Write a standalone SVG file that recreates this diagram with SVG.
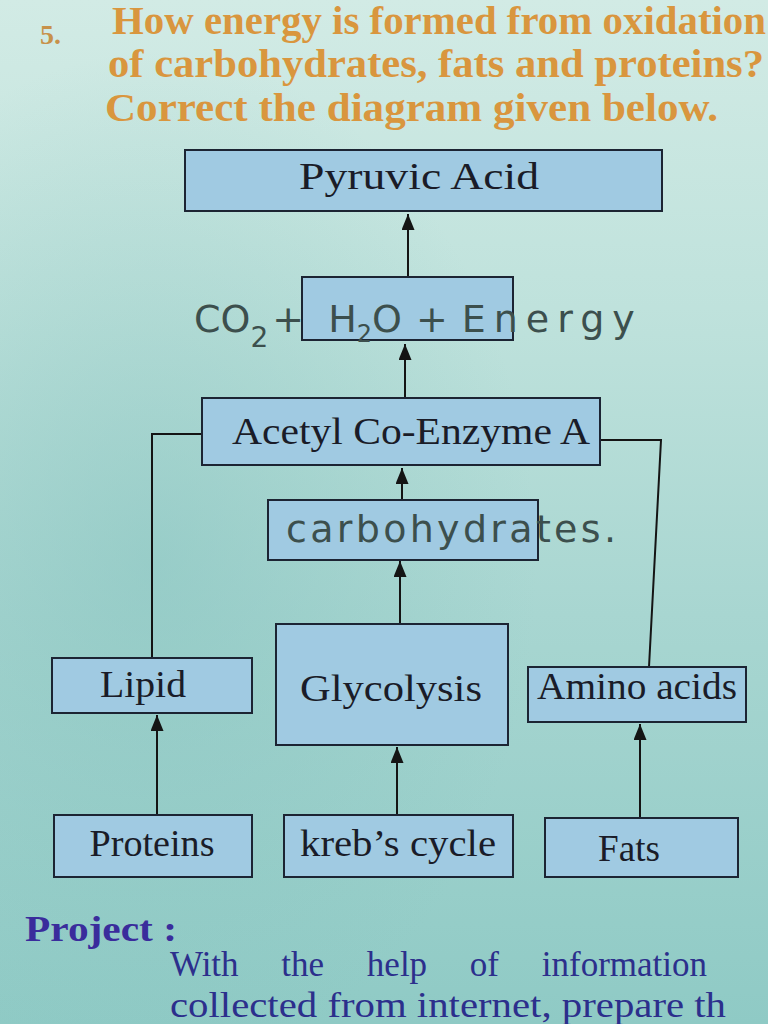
<svg xmlns="http://www.w3.org/2000/svg" width="768" height="1024" viewBox="0 0 768 1024">
  <defs>
    <linearGradient id="bg" x1="0" y1="0" x2="0" y2="1">
      <stop offset="0" stop-color="#d2ebe5"/>
      <stop offset="0.3" stop-color="#bfe2dc"/>
      <stop offset="0.6" stop-color="#a8d6d1"/>
      <stop offset="1" stop-color="#8fcac5"/>
    </linearGradient>
    <radialGradient id="shade" cx="0.2" cy="0.55" r="0.5">
      <stop offset="0" stop-color="#7fbfbb" stop-opacity="0.45"/>
      <stop offset="1" stop-color="#7fbfbb" stop-opacity="0"/>
    </radialGradient>
    <marker id="arr" markerUnits="userSpaceOnUse" markerWidth="16" markerHeight="13" refX="16" refY="6.5" orient="auto">
      <path d="M0,0 L16,6.5 L0,13 z" fill="#141414"/>
    </marker>
    <style>
      .box { fill: #a0cae2; stroke: #1c2433; stroke-width: 2; }
      .lbl { font-family: "Liberation Serif", "Times New Roman", serif; font-size: 38px; fill: #1a1c28; text-anchor: middle; }
      .title { font-family: "Liberation Serif", "Times New Roman", serif; font-weight: bold; font-size: 40px; fill: #d9963e; }
      .hand { font-family: "DejaVu Sans", sans-serif; font-size: 38px; fill: #3c4f4d; }
      .conn { fill: none; stroke: #141414; stroke-width: 2; }
      .proj { font-family: "Liberation Serif", "Times New Roman", serif; font-size: 35px; fill: #2c2f8c; }
    </style>
  </defs>

  <rect x="0" y="0" width="768" height="1024" fill="url(#bg)"/>
  <rect x="0" y="0" width="768" height="1024" fill="url(#shade)"/>

  <!-- Question title -->
  <g id="title">
    <text x="40" y="44" font-family="Liberation Serif, serif" font-weight="bold" font-size="28" fill="#c7914a">5.</text>
    <text class="title" x="112" y="34" font-size="37" textLength="654" lengthAdjust="spacingAndGlyphs">How energy is formed from oxidation</text>
    <text class="title" x="108" y="77" textLength="656" lengthAdjust="spacingAndGlyphs">of carbohydrates, fats and proteins?</text>
    <text class="title" x="105" y="121" textLength="613" lengthAdjust="spacingAndGlyphs">Correct the diagram given below.</text>
  </g>

  <!-- Connectors -->
  <g id="connectors">
    <path class="conn" d="M408,277 V214" marker-end="url(#arr)"/>
    <path class="conn" d="M405,398 V344" marker-end="url(#arr)"/>
    <path class="conn" d="M402,500 V468" marker-end="url(#arr)"/>
    <path class="conn" d="M400,624 V561" marker-end="url(#arr)"/>
    <path class="conn" d="M202,434 H152 V658"/>
    <path class="conn" d="M600,440 H661 L649,667"/>
    <path class="conn" d="M157,815 V715" marker-end="url(#arr)"/>
    <path class="conn" d="M397,815 V747" marker-end="url(#arr)"/>
    <path class="conn" d="M640,818 V724" marker-end="url(#arr)"/>
  </g>

  <!-- Nodes -->
  <g id="pyruvic">
    <rect class="box" x="185" y="150" width="477" height="61"/>
    <text class="lbl" x="419" y="189" textLength="240" lengthAdjust="spacingAndGlyphs">Pyruvic Acid</text>
  </g>

  <g id="co2-box">
    <rect class="box" x="302" y="277" width="211" height="63"/>
    <text class="hand" x="194" y="332">CO<tspan font-size="28" dy="15">2</tspan><tspan dy="-15" dx="4">+</tspan><tspan dx="24">H</tspan><tspan font-size="24" dy="10">2</tspan><tspan dy="-10">O</tspan><tspan dx="14">+</tspan><tspan dx="14" letter-spacing="8">Energy</tspan></text>
  </g>

  <g id="acetyl">
    <rect class="box" x="202" y="398" width="398" height="67"/>
    <text class="lbl" x="411" y="444" textLength="358" lengthAdjust="spacingAndGlyphs">Acetyl Co-Enzyme A</text>
  </g>

  <g id="carbohydrates">
    <rect class="box" x="268" y="500" width="270" height="60"/>
    <text class="hand" x="286" y="542" textLength="330">carbohydrates.</text>
  </g>

  <g id="lipid">
    <rect class="box" x="52" y="658" width="200" height="55"/>
    <text class="lbl" x="143" y="697" textLength="86" lengthAdjust="spacingAndGlyphs">Lipid</text>
  </g>

  <g id="glycolysis">
    <rect class="box" x="276" y="624" width="232" height="121"/>
    <text class="lbl" x="391" y="701" textLength="182" lengthAdjust="spacingAndGlyphs">Glycolysis</text>
  </g>

  <g id="amino-acids">
    <rect class="box" x="528" y="667" width="218" height="55"/>
    <text class="lbl" x="637" y="699" textLength="200" lengthAdjust="spacingAndGlyphs">Amino acids</text>
  </g>

  <g id="proteins">
    <rect class="box" x="54" y="815" width="198" height="62"/>
    <text class="lbl" x="152" y="856" font-size="34" textLength="125" lengthAdjust="spacingAndGlyphs">Proteins</text>
  </g>

  <g id="krebs">
    <rect class="box" x="284" y="815" width="229" height="62"/>
    <text class="lbl" x="398" y="856" font-size="34" textLength="196" lengthAdjust="spacingAndGlyphs">kreb’s  cycle</text>
  </g>

  <g id="fats">
    <rect class="box" x="545" y="818" width="193" height="59"/>
    <text class="lbl" x="629" y="861" font-size="34" textLength="62" lengthAdjust="spacingAndGlyphs">Fats</text>
  </g>

  <!-- Project text -->
  <g id="project">
    <text x="25" y="941" font-family="Liberation Serif, serif" font-weight="bold" font-size="36" fill="#3a2c9c" textLength="152" lengthAdjust="spacingAndGlyphs">Project :</text>
    <text class="proj" x="170" y="976" word-spacing="34">With the help of information</text>
    <text class="proj" x="170" y="1017" font-size="32" textLength="556" lengthAdjust="spacingAndGlyphs">collected from internet, prepare th</text>
  </g>
</svg>
